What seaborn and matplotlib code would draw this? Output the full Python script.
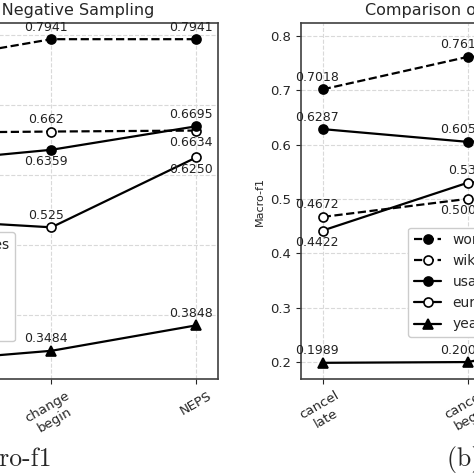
import numpy as np
import matplotlib.pyplot as plt
import seaborn as sns
import pandas as pd

sns.set_style("ticks")
plt.rcParams["font.family"] = ["DejaVu Sans"]

# Categories of both panels (only part of each panel is visible in the crop)
left_categories = ["random", "change\nlate", "change\nbegin", "NEPS"]
right_categories = ["cancel\nlate", "cancel\nbegin", "random", "NEPS"]

series_names = ["word_categories", "wiki_links", "usa_states", "euro_cities", "years"]

# Values as printed on the chart
left_word = ["0.7402", "0.7583", "0.7941", "0.7941"]
left_wiki = ["0.6512", "0.6601", "0.662", "0.6634"]
left_usa = ["0.6034", "0.6162", "0.6359", "0.6695"]
left_euro = ["0.5203", "0.5371", "0.525", "0.6250"]
left_year = ["0.3511", "0.3312", "0.3484", "0.3848"]

right_word = ["0.7018", "0.7615", "0.7712", "0.7941"]
right_wiki = ["0.4672", "0.5004", "0.5213", "0.5511"]
right_usa = ["0.6287", "0.6053", "0.6214", "0.6695"]
right_euro = ["0.4422", "0.53", "0.5507", "0.6012"]
right_year = ["0.1989", "0.2003", "0.2511", "0.3012"]

left_series = [left_word, left_wiki, left_usa, left_euro, left_year]
right_series = [right_word, right_wiki, right_usa, right_euro, right_year]

# line style, marker, marker face colour
styles = [("--", "o", "black"), ("--", "o", "white"), ("-", "o", "black"),
          ("-", "o", "white"), ("-", "^", "black")]

# value labels that sit below their point (series index, category index)
left_below = {(1, 3), (2, 2), (3, 3)}
right_below = {(1, 1), (3, 0)}

fig = plt.figure(figsize=(4.74, 4.74), dpi=100)
W = 474.0
ax1 = fig.add_axes([-260 / W, 95 / W, 478 / W, 356 / W])
ax2 = fig.add_axes([301 / W, 95 / W, 478 / W, 356 / W])


def draw(ax, categories, series, below):
    for k, (name, labels) in enumerate(zip(series_names, series)):
        vals = [float(s) for s in labels]
        df = pd.DataFrame({"x": np.arange(len(categories)), "y": vals})
        ls, mk, fc = styles[k]
        sns.lineplot(data=df, x="x", y="y", ax=ax, color="black", linestyle=ls,
                     marker=mk, markersize=6.5, markerfacecolor=fc,
                     markeredgecolor="black", markeredgewidth=1.2,
                     linewidth=1.6, label=name)
        for i, (v, s) in enumerate(zip(vals, labels)):
            if (k, i) in below:
                ax.annotate(s, (i, v), xytext=(-4, -4), textcoords="offset points",
                            ha="center", va="top", fontsize=9, color="#222222")
            else:
                ax.annotate(s, (i, v), xytext=(-4, 4), textcoords="offset points",
                            ha="center", va="bottom", fontsize=9, color="#222222")
    ax.set_xticks(np.arange(len(categories)))
    ax.set_xticklabels(categories, rotation=30, ha="center", fontsize=9.5)
    ax.tick_params(axis="y", labelsize=9.5)
    ax.grid(True, linestyle="--", color="0.85", linewidth=0.8)
    for sp in ax.spines.values():
        sp.set_visible(True)
        sp.set_color("0.25")
        sp.set_linewidth(1.2)
    ax.set_xlabel("")
    ax.set_title("Comparison of Different Negative Sampling", fontsize=11.5)


draw(ax1, left_categories, left_series, left_below)
draw(ax2, right_categories, right_series, right_below)

ax1.set_ylabel("Micro-f1", fontsize=8)
ax2.set_ylabel("Macro-f1", fontsize=8)

ax1.legend(loc="upper right", bbox_to_anchor=(0.575, 0.413), borderaxespad=0,
           fontsize=10, framealpha=1, edgecolor="0.8")
ax2.legend(loc="lower left", bbox_to_anchor=(0.224, 0.118), borderaxespad=0,
           fontsize=10, framealpha=1, edgecolor="0.8")

# sub-figure captions
fig.text(52 / W, 8 / W, "(a) Micro-f1", ha="right", va="baseline",
         family="cmr10", fontsize=18.5)
fig.text(447 / W, 8 / W, "(b) Macro-f1", ha="left", va="baseline",
         family="cmr10", fontsize=18.5)

fig.savefig("out.png", dpi=100)
